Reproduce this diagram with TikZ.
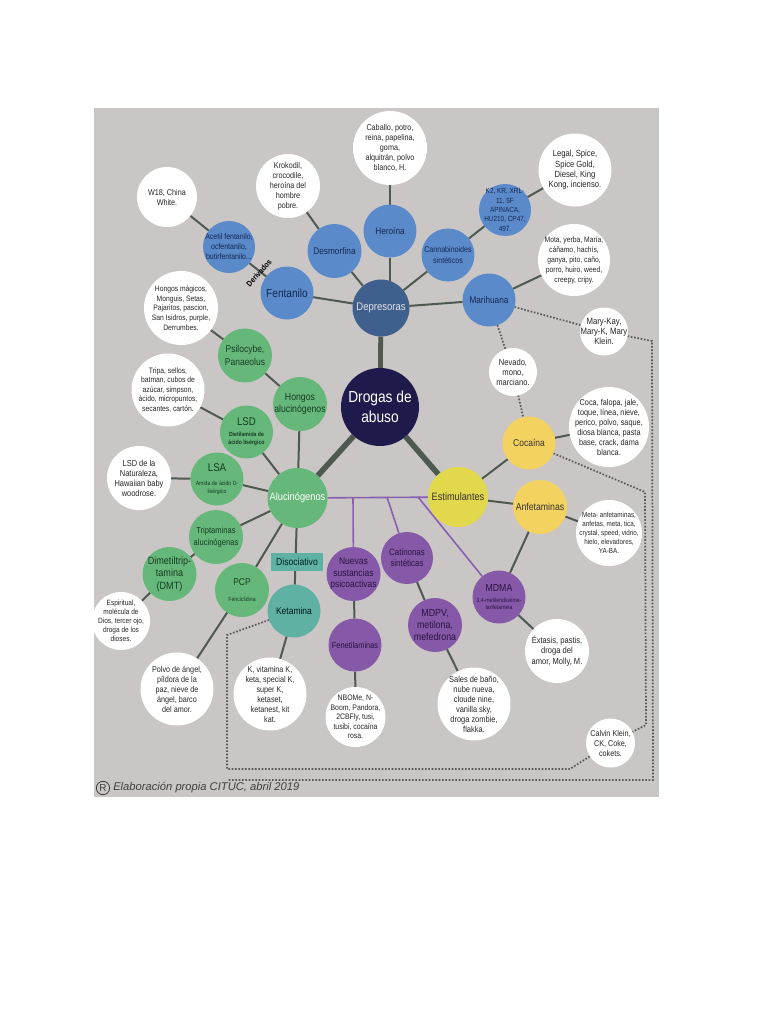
\documentclass[tikz,border=0pt]{standalone}
\usepackage{fontspec}
\setmainfont[FakeStretch=0.86]{Liberation Sans}
\newfontfamily\footfont{Liberation Sans}
\usetikzlibrary{backgrounds}
\definecolor{panel}{HTML}{C9C6C5}
\definecolor{blueN}{HTML}{5B8ACB}
\definecolor{depN}{HTML}{3F5F8C}
\definecolor{navyN}{HTML}{1E1A4C}
\definecolor{greenN}{HTML}{66B87A}
\definecolor{yelN}{HTML}{E2D84C}
\definecolor{orN}{HTML}{F4D25F}
\definecolor{purN}{HTML}{8558A8}
\definecolor{tealN}{HTML}{5FB1A4}
\definecolor{linkC}{HTML}{4E5A50}
\definecolor{purL}{HTML}{8A5FB0}
\definecolor{txtB}{HTML}{14284F}
\definecolor{txtG}{HTML}{173A24}
\definecolor{txtP}{HTML}{2A1440}
\newcommand{\fs}[1]{\fontsize{#1}{7.5}\selectfont}
\newcommand{\tinyA}{\fontsize{4.5}{5.4}\selectfont}
\newcommand{\bigA}{\fontsize{8.4}{10}\selectfont}
\tikzset{
  bub/.style={circle,inner sep=-15pt,outer sep=0pt,align=center,minimum size=#1*0.75pt},
  wb/.style={bub=#1,fill=white,text=black!85,font=\fs{6.3}},
  bl/.style={bub=#1,fill=blueN,text=txtB,font=\fontsize{7.2}{9}\selectfont},
  gr/.style={bub=#1,fill=greenN,text=txtG,font=\fontsize{7.4}{9.4}\selectfont},
  pu/.style={bub=#1,fill=purN,text=txtP,font=\fontsize{7.6}{9}\selectfont},
  ye/.style={bub=#1,fill=orN,text=black!80,font=\fontsize{7.4}{9}\selectfont},
  link/.style={draw=linkC,line width=1.5pt},
  hub/.style={draw=linkC,line width=3.6pt},
  dots/.style={draw=black!65,line width=1.3pt,dash pattern=on 1.2pt off 1.3pt},
  pline/.style={draw=purL,line width=1.2pt}
}
\begin{document}
\begin{tikzpicture}[x=0.75pt,y=-0.75pt]
\useasboundingbox (0,0) rectangle (768,1024);
\begin{scope}[on background layer]
\fill[white] (0,0) rectangle (768,1024);
\fill[panel] (94,108) rectangle (659,797);
\end{scope}
% hub
\node[bub=78,fill=navyN,text=white,font=\fontsize{12}{15}\selectfont] (drogas) at (380,407) {Drogas de\\abuso};
\node[bub=57,fill=depN,text=white!90!black,font=\fontsize{8.3}{9}\selectfont] (depre) at (381,308) {Depresoras};
\node[bub=60,fill=greenN,text=white,font=\fontsize{8.1}{9}\selectfont] (aluc) at (297.5,498) {Alucinógenos};
\node[bub=60,fill=yelN,text=black!80,font=\fontsize{8}{9}\selectfont] (estim) at (458,497) {Estimulantes};
% blue
\node[bl=53] (heroina) at (390,231) {Heroína};
\node[bl=54] (desmo) at (334.5,251) {Desmorfina};
\node[bl=53,font=\fontsize{8.8}{9}\selectfont] (fenta) at (287,293) {Fentanilo};
\node[bl=52,font=\fs{6.1}] (acetil) at (229,247) {Acetil fentanilo,\\ocfentanilo,\\butirfentanilo...};
\node[bl=53,font=\fontsize{6.2}{8}\selectfont] (canna) at (448,255) {Cannabinoides\\sintéticos};
\node[bl=52,font=\fontsize{5.6}{7}\selectfont] (ktwo) at (505,210) {K2, KR, XRL-\\11, 5F\\APINACA,\\HU210, CP47,\\497.};
\node[bl=53] (mari) at (489,300) {Marihuana};
% white, depressant side
\node[wb=60] (wdiez) at (167,197) {W18, China\\White.};
\node[wb=64] (kroko) at (288,186) {Krokodil,\\crocodile,\\heroína del\\hombre\\pobre.};
\node[wb=74] (caba) at (390,148) {Caballo, potro,\\reina, papelina,\\goma,\\alquitrán, polvo\\blanco, H.};
\node[wb=73,font=\fontsize{6.7}{7.8}\selectfont] (legal) at (575,170) {Legal, Spice,\\Spice Gold,\\Diesel, King\\Kong, incienso.};
\node[wb=72,font=\fs{5.9}] (mota) at (574,260) {Mota, yerba, María,\\cáñamo, hachís,\\ganya, pito, caño,\\porro, huiro, weed,\\creepy, cripy.};
\node[wb=48,font=\fs{6.8}] (mary) at (604,331.5) {Mary-Kay,\\Mary-K, Mary\\Klein.};
\node[wb=48,font=\fs{6.6}] (nevado) at (513,372) {Nevado,\\mono,\\marciano.};
% stimulants
\node[ye=53] (coca) at (529,443) {Cocaína};
\node[ye=54,font=\fontsize{7.6}{9}\selectfont] (anfe) at (540,507) {Anfetaminas};
\node[wb=80,font=\fs{6.4}] (cocaw) at (609,427) {Coca, falopa, jale,\\toque, línea, nieve,\\perico, polvo, saque,\\diosa blanca, pasta\\base, crack, dama\\blanca.};
\node[wb=66,font=\fontsize{5.5}{6.8}\selectfont] (meta) at (609,533) {Meta- anfetaminas,\\anfetas, meta, tica,\\crystal, speed, vidrio,\\hielo, elevadores,\\YA-BA.};
% purple
\node[pu=53] (mdma) at (499,597) {MDMA\\[-1pt]\tinyA 3,4-metilendioxime-\\[-3.5pt]\tinyA tanfetamina};
\node[wb=64,font=\fontsize{6.6}{7.8}\selectfont] (exta) at (557,651) {Éxtasis, pastis,\\droga del\\amor, Molly, M.};
\node[pu=54,font=\fontsize{7.7}{9}\selectfont] (mdpv) at (435,625) {MDPV,\\metilona,\\mefedrona};
\node[wb=73,font=\fs{6.5}] (sales) at (474,704) {Sales de baño,\\nube nueva,\\cloude nine,\\vanilla sky,\\droga zombie,\\flakka.};
\node[pu=52,font=\fontsize{6.9}{8.4}\selectfont] (cati) at (407,558) {Catinonas\\sintéticas};
\node[pu=54,font=\fontsize{7.4}{8.6}\selectfont] (nuevas) at (353.5,574) {Nuevas\\sustancias\\psicoactivas};
\node[pu=53,font=\fontsize{6.5}{8}\selectfont] (feneti) at (355,645) {Fenetilaminas};
\node[wb=60,font=\fontsize{6}{7.2}\selectfont] (nbome) at (355.5,717) {NBOMe, N-\\Boom, Pandora,\\2CBFly, tusi,\\tusibi, cocaína\\rosa.};
% teal
\node[bub=53,fill=tealN,text=black!80!teal,font=\fontsize{7.4}{9}\selectfont] (keta) at (294,611) {Ketamina};
\node[fill=tealN,text=black!75!teal,inner sep=0pt,outer sep=0pt,minimum width=39pt,minimum height=13.5pt,font=\fontsize{7.5}{8}\selectfont] (diso) at (297,562) {Disociativo};
\node[wb=73] (kvit) at (270,694) {K, vitamina K,\\keta, special K,\\super K,\\ketaset,\\ketanest, kit\\kat.};
% green
\node[gr=54,font=\fontsize{7.6}{9.4}\selectfont] (hong) at (300,404) {Hongos\\alucinógenos};
\node[gr=54] (psilo) at (245,355.5) {Psilocybe,\\Panaeolus};
\node[wb=74,font=\fontsize{5.9}{7.2}\selectfont] (magi) at (181,308) {Hongos mágicos,\\Monguis, Setas,\\Pajaritos, pascion,\\San Isidros, purple,\\Derrumbes.};
\node[gr=53] (lsd) at (246.5,432) {\bigA LSD\\[-1pt]\tinyA\bfseries Dietilamida de\\[-3.5pt]\tinyA\bfseries ácido lisérgico};
\node[wb=73,font=\fontsize{5.9}{7.2}\selectfont] (tripa) at (168,390) {Tripa, sellos,\\batman, cubos de\\azúcar, simpson,\\ácido, micropuntos,\\secantes, cartón.};
\node[gr=53] (lsa) at (217,479) {\bigA LSA\\[1pt]\tinyA Amida de ácido D-\\[-3.5pt]\tinyA lisérgico};
\node[wb=64,font=\fs{6.5}] (lsdn) at (139,478) {LSD de la\\Naturaleza,\\Hawaiian baby\\woodrose.};
\node[gr=54,font=\fontsize{6.6}{9}\selectfont] (trip) at (216,537) {Triptaminas\\alucinógenas};
\node[gr=54,font=\fontsize{7.9}{9.4}\selectfont] (dmt) at (169.5,574) {Dimetiltrip-\\tamina\\(DMT)};
\node[wb=58,font=\fontsize{5.7}{6.8}\selectfont] (espi) at (121,621) {Espiritual,\\molécula de\\Dios, tercer ojo,\\droga de los\\dioses.};
\node[gr=54] (pcp) at (242,590) {PCP\\[3pt]\tinyA Fenciclidina};
\node[wb=73] (polvo) at (177,689) {Polvo de ángel,\\píldora de la\\paz, nieve de\\ángel, barco\\del amor.};
\node[wb=49] (calvin) at (610.5,743) {Calvin Klein,\\CK, Coke,\\cokets.};
% free labels
\node[rotate=48,inner sep=0pt,text=black,font=\fontsize{6}{7}\selectfont\bfseries] (deriv) at (259,273) {Derivados};
\node[anchor=west,inner sep=0pt,font=\footfont\fontsize{8.4}{10}\selectfont\itshape,text=black!75] (foot) at (113,788) {Elaboración propia CITUC, abril 2019};
\node[circle,draw=black!75,line width=0.6pt,inner sep=0pt,minimum size=10pt,font=\footfont\fontsize{7.5}{8}\selectfont,text=black!75] (reg) at (103,788) {R};
% junctions
\coordinate (jnue) at (353,497);
\coordinate (jcat) at (387,497);
\coordinate (jmdma) at (418,497);
\coordinate (aTR) at (652,341);
\coordinate (aBR) at (653,780);
\coordinate (aBL) at (227,780);
\coordinate (bTL) at (227,635);
\coordinate (bBL) at (227,769);
\coordinate (bBR) at (570,769);
\coordinate (cTR) at (645,492);
\coordinate (cBR) at (646,725);
\begin{scope}[on background layer]
\draw[hub] (drogas) -- (depre);
\draw[hub,line width=4.2pt] (drogas) -- (aluc);
\draw[hub,line width=4.2pt] (drogas) -- (estim);
\draw[link] (heroina) -- (heroina |- depre);
\foreach \a/\b in {depre/fenta,depre/desmo,depre/canna,depre/mari,
  fenta/acetil,acetil/wdiez,desmo/kroko,heroina/caba,canna/ktwo,ktwo/legal,mari/mota,
  aluc/hong,aluc/lsd,aluc/lsa,aluc/trip,aluc/pcp,aluc/keta,
  hong/psilo,psilo/magi,lsd/tripa,lsa/lsdn,trip/dmt,dmt/espi,pcp/polvo,keta/kvit,
  estim/coca,estim/anfe,coca/cocaw,anfe/meta,anfe/mdma,mdma/exta,
  nuevas/feneti,feneti/nbome,cati/mdpv,mdpv/sales}
  {\draw[link] (\a) -- (\b);}
\draw[pline] (aluc) -- (estim);
\draw[pline] (jnue) -- (nuevas);
\draw[pline] (jcat) -- (cati);
\draw[pline] (jmdma) -- (mdma);
\draw[dots] (mari) -- (mary);
\draw[dots] (mary) -- (aTR) -- (aBR) -- (aBL);
\draw[dots] (mari) -- (nevado);
\draw[dots] (nevado) -- (coca);
\draw[dots] (coca) -- (cTR) -- (cBR) -- (calvin);
\draw[dots] (keta) -- (bTL) -- (bBL) -- (bBR) -- (calvin);
\end{scope}
\end{tikzpicture}
\end{document}
